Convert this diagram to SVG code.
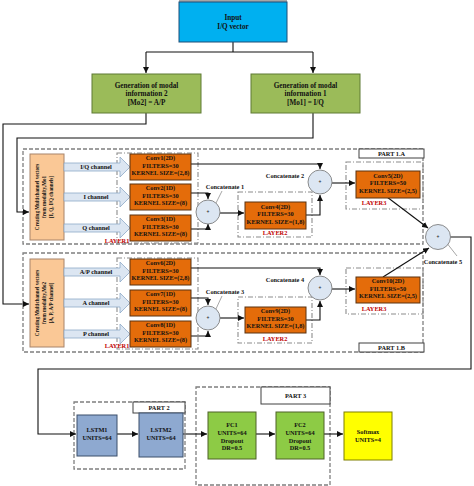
<svg xmlns="http://www.w3.org/2000/svg" width="474" height="486" viewBox="0 0 474 486">
<defs>
<marker id="ah" markerUnits="userSpaceOnUse" markerWidth="7" markerHeight="6" refX="6" refY="3" orient="auto">
<path d="M0,0 L6,3 L0,6 z" fill="#111"/>
</marker>
<style>
text{font-family:"Liberation Serif","Times New Roman",serif;font-weight:bold;fill:#111;text-anchor:middle}
.t6{font-size:6.3px}
.t7{font-size:7.2px}
.t5{font-size:5.1px}
.red{fill:#C00000;font-size:6.3px}
.part{fill:none;stroke:#7f7f7f;stroke-width:1.3;stroke-dasharray:4,2}
.layer{fill:none;stroke:#8c8c8c;stroke-width:1.1;stroke-dasharray:5,2,1,2}
.plabel{fill:#fff;stroke:#404040;stroke-width:1}
.conv{fill:#E46C0A;stroke:#5a3210;stroke-width:1}
.green{fill:#9BBB59;stroke:#5f7a34;stroke-width:1}
.peach{fill:#FAC896;stroke:#a8846a;stroke-width:1}
.chan{fill:#DCE6F2;stroke:#8EA9C8;stroke-width:0.8}
.circ{fill:#DCE6F2;stroke:#7f7f7f;stroke-width:0.9}
.lstm{fill:#8EA9D0;stroke:#3b4f6b;stroke-width:1}
.fc{fill:#8DCB45;stroke:#4f6228;stroke-width:1}
.line{fill:none;stroke:#111;stroke-width:1.1}
.lead{fill:none;stroke:#7f7f7f;stroke-width:0.7}
</style>
</defs>
<rect width="474" height="486" fill="#fff"/>

<!-- Part / layer frames -->
<g id="frames">
<rect class="part" x="23" y="149" width="400" height="95"/>
<rect class="plabel" x="359" y="149" width="65" height="9"/>
<text class="t6" x="391.5" y="156">PART 1.A</text>
<rect class="part" x="23" y="253" width="400" height="99"/>
<rect class="plabel" x="359" y="343" width="65" height="9"/>
<text class="t6" x="391.5" y="350">PART 1.B</text>
<rect class="layer" x="117" y="153" width="81" height="90"/>
<rect class="layer" x="238" y="192" width="74" height="45"/>
<rect class="layer" x="346" y="162" width="77" height="47"/>
<rect class="layer" x="117" y="258" width="81" height="91"/>
<rect class="layer" x="238" y="297" width="74" height="46"/>
<rect class="layer" x="346" y="268" width="77" height="46"/>
<rect class="part" x="74" y="402" width="111" height="67"/>
<rect class="plabel" x="133" y="402" width="52" height="11"/>
<text class="t6" x="159" y="410">PART 2</text>
<rect class="part" x="196" y="387" width="134" height="98"/>
<rect class="plabel" x="261" y="387" width="69" height="17"/>
<text class="t6" x="295.5" y="398">PART 3</text>
<text class="red" x="117" y="242.5">LAYER1</text>
<text class="red" x="275" y="235">LAYER2</text>
<text class="red" x="374" y="205">LAYER3</text>
<text class="red" x="117" y="348">LAYER1</text>
<text class="red" x="275" y="341">LAYER2</text>
<text class="red" x="374" y="311">LAYER3</text>
</g>

<!-- Connectors -->
<g id="connectors">
<path class="line" d="M233,42 V52 M146,52 H313"/>
<path class="line" d="M146,52 V73" marker-end="url(#ah)"/>
<path class="line" d="M313,52 V73" marker-end="url(#ah)"/>
<path class="line" d="M146,113 V124 H3 V304 H29" marker-end="url(#ah)"/>
<path class="line" d="M313,113 V138 H17 V212 H29" marker-end="url(#ah)"/>
<!-- part 1.A -->
<path class="line" d="M191,193 H208 V199" marker-end="url(#ah)"/>
<path class="line" d="M191,229 H208 V224" marker-end="url(#ah)"/>
<path class="line" d="M220,213 H244" marker-end="url(#ah)"/>
<path class="line" d="M191,164 H320 V169" marker-end="url(#ah)"/>
<path class="line" d="M306,215 H320 V195" marker-end="url(#ah)"/>
<path class="line" d="M332,183 H355" marker-end="url(#ah)"/>
<path class="line" d="M387,197 L428,228" marker-end="url(#ah)"/>
<!-- part 1.B -->
<path class="line" d="M191,298 H208 V305" marker-end="url(#ah)"/>
<path class="line" d="M191,336 H208 V331" marker-end="url(#ah)"/>
<path class="line" d="M220,318 H244" marker-end="url(#ah)"/>
<path class="line" d="M191,268 H320 V275" marker-end="url(#ah)"/>
<path class="line" d="M306,320 H320 V301" marker-end="url(#ah)"/>
<path class="line" d="M332,289 H355" marker-end="url(#ah)"/>
<path class="line" d="M383,277 L429,248" marker-end="url(#ah)"/>
<!-- to part 2 -->
<path class="line" d="M450,237 H471 V369 H38 V434 H76" marker-end="url(#ah)"/>
<path class="line" d="M117,434 H138" marker-end="url(#ah)"/>
<path class="line" d="M183,434 H207" marker-end="url(#ah)"/>
<path class="line" d="M256,434 H275" marker-end="url(#ah)"/>
<path class="line" d="M324,434 H343" marker-end="url(#ah)"/>
<!-- leaders -->
<path class="lead" d="M222,191 L215,205"/>
<path class="lead" d="M222,296 L215,311"/>
<path class="lead" d="M446,242 L457,256"/>
</g>

<g id="input">
<rect x="179" y="0" width="108" height="2" fill="#a6a6a6"/>
<rect x="179" y="2" width="108" height="40" fill="#00B0F0" stroke="#1F4E79" stroke-width="1"/>
<text class="t7" x="233" y="20">Input</text>
<text class="t7" x="233" y="28.5">I/Q vector</text>
</g>
<g id="gen2">
<rect class="green" x="92" y="74" width="109" height="39"/>
<text class="t7" x="146.5" y="87.5">Generation of modal</text>
<text class="t7" x="146.5" y="96">information 2</text>
<text class="t7" x="146.5" y="104.5">[Mo2] = A/P</text>
</g>
<g id="gen1">
<rect class="green" x="251" y="74" width="109" height="39"/>
<text class="t7" x="305.5" y="87.5">Generation of modal</text>
<text class="t7" x="305.5" y="96">information 1</text>
<text class="t7" x="305.5" y="104.5">[Mo1] = I/Q</text>
</g>

<g id="multi1">
<rect class="peach" x="30" y="154" width="34" height="86"/>
<g transform="translate(47,197) rotate(-90)">
<text class="t5" x="0" y="-8">Creating Multichannel vectors</text>
<text class="t5" x="0" y="-1">from modality,Mo1</text>
<text class="t5" x="0" y="6">[I, Q, I/Q channels]</text>
</g>
</g>
<g id="multi2">
<rect class="peach" x="30" y="259" width="34" height="88"/>
<g transform="translate(47,303) rotate(-90)">
<text class="t5" x="0" y="-8">Creating Multichannel vectors</text>
<text class="t5" x="0" y="-1">from modality,Mo2</text>
<text class="t5" x="0" y="6">[A, P, A/P channel]</text>
</g>
</g>

<g id="channels1">
<path class="chan" d="M64,163 H120 V157 L130,167 L120,177 V171 H64 Z"/>
<text class="t6" x="96" y="169">I/Q channel</text>
<path class="chan" d="M64,193 H120 V187 L130,197 L120,207 V201 H64 Z"/>
<text class="t6" x="96" y="199">I channel</text>
<path class="chan" d="M64,224 H120 V218 L130,228 L120,238 V232 H64 Z"/>
<text class="t6" x="96" y="230">Q channel</text>
</g>
<g id="channels2">
<path class="chan" d="M64,268 H120 V262 L130,272 L120,282 V276 H64 Z"/>
<text class="t6" x="96" y="274">A/P channel</text>
<path class="chan" d="M64,299 H120 V293 L130,303 L120,313 V307 H64 Z"/>
<text class="t6" x="96" y="305">A channel</text>
<path class="chan" d="M64,330 H120 V324 L130,334 L120,344 V338 H64 Z"/>
<text class="t6" x="96" y="336">P channel</text>
</g>

<g id="conv1"><rect class="conv" x="130" y="154" width="61" height="26"/>
<text class="t6" x="160.5" y="160">Conv1(2D)</text><text class="t6" x="160.5" y="167.5">FILTERS=30</text><text class="t6" x="160.5" y="175">KERNEL SIZE=(2,8)</text></g>
<g id="conv2"><rect class="conv" x="130" y="184" width="61" height="26"/>
<text class="t6" x="160.5" y="190">Conv2(1D)</text><text class="t6" x="160.5" y="197.5">FILTERS=30</text><text class="t6" x="160.5" y="205">KERNEL SIZE=(8)</text></g>
<g id="conv3"><rect class="conv" x="130" y="215" width="61" height="26"/>
<text class="t6" x="160.5" y="221">Conv3(1D)</text><text class="t6" x="160.5" y="228.5">FILTERS=30</text><text class="t6" x="160.5" y="236">KERNEL SIZE=(8)</text></g>
<g id="conv4"><rect class="conv" x="245" y="202" width="61" height="27"/>
<text class="t6" x="275.5" y="208.5">Conv4(2D)</text><text class="t6" x="275.5" y="216">FILTERS=30</text><text class="t6" x="275.5" y="223.5">KERNEL SIZE=(1,8)</text></g>
<g id="conv5"><rect class="conv" x="356" y="171" width="64" height="27"/>
<text class="t6" x="388" y="177.5">Conv5(2D)</text><text class="t6" x="388" y="185">FILTERS=50</text><text class="t6" x="388" y="192.5">KERNEL SIZE=(2,5)</text></g>

<g id="conv6"><rect class="conv" x="130" y="259" width="61" height="26"/>
<text class="t6" x="160.5" y="265">Conv6(2D)</text><text class="t6" x="160.5" y="272.5">FILTERS=30</text><text class="t6" x="160.5" y="280">KERNEL SIZE=(2,8)</text></g>
<g id="conv7"><rect class="conv" x="130" y="290" width="61" height="26"/>
<text class="t6" x="160.5" y="296">Conv7(1D)</text><text class="t6" x="160.5" y="303.5">FILTERS=30</text><text class="t6" x="160.5" y="311">KERNEL SIZE=(8)</text></g>
<g id="conv8"><rect class="conv" x="130" y="321" width="61" height="26"/>
<text class="t6" x="160.5" y="327">Conv8(1D)</text><text class="t6" x="160.5" y="334.5">FILTERS=30</text><text class="t6" x="160.5" y="342">KERNEL SIZE=(8)</text></g>
<g id="conv9"><rect class="conv" x="245" y="307" width="61" height="26"/>
<text class="t6" x="275.5" y="313">Conv9(2D)</text><text class="t6" x="275.5" y="320.5">FILTERS=30</text><text class="t6" x="275.5" y="328">KERNEL SIZE=(1,8)</text></g>
<g id="conv10"><rect class="conv" x="356" y="277" width="64" height="26"/>
<text class="t6" x="388" y="283">Conv10(2D)</text><text class="t6" x="388" y="290.5">FILTERS=50</text><text class="t6" x="388" y="298">KERNEL SIZE=(2,5)</text></g>

<g id="concat1"><circle class="circ" cx="208" cy="212" r="12"/><text class="t5" x="208" y="214">+</text>
<text class="t6" x="225" y="189">Concatenate 1</text></g>
<g id="concat2"><circle class="circ" cx="320" cy="182" r="12"/><text class="t5" x="320" y="184">+</text>
<text class="t6" x="285" y="178">Concatenate 2</text></g>
<g id="concat3"><circle class="circ" cx="208" cy="318" r="12"/><text class="t5" x="208" y="320">+</text>
<text class="t6" x="225" y="294">Concatenate 3</text></g>
<g id="concat4"><circle class="circ" cx="320" cy="288" r="12"/><text class="t5" x="320" y="290">+</text>
<text class="t6" x="285" y="282">Concatenate 4</text></g>
<g id="concat5"><circle class="circ" cx="438" cy="237" r="12.5"/><text class="t5" x="438" y="239">+</text>
<text class="t6" x="443" y="264">Concatenate 5</text></g>

<g id="lstm1"><rect class="lstm" x="77" y="415" width="40" height="41"/>
<text class="t6" x="97" y="432">LSTM1</text><text class="t6" x="97" y="440">UNITS=64</text></g>
<g id="lstm2"><rect class="lstm" x="139" y="413" width="44" height="44"/>
<text class="t6" x="161" y="432">LSTM2</text><text class="t6" x="161" y="440">UNITS=64</text></g>
<g id="fc1"><rect class="fc" x="208" y="412" width="48" height="47"/>
<text class="t6" x="232" y="426.5">FC1</text><text class="t6" x="232" y="434.5">UNITS=64</text><text class="t6" x="232" y="442.5">Dropout</text><text class="t6" x="232" y="450">DR=0.5</text></g>
<g id="fc2"><rect class="fc" x="276" y="412" width="48" height="47"/>
<text class="t6" x="300" y="426.5">FC2</text><text class="t6" x="300" y="434.5">UNITS=64</text><text class="t6" x="300" y="442.5">Dropout</text><text class="t6" x="300" y="450">DR=0.5</text></g>
<g id="softmax"><rect x="344" y="412" width="48" height="48" fill="#FFFF00" stroke="#7f7f00" stroke-width="1"/>
<text class="t6" x="368" y="434">Softmax</text><text class="t6" x="368" y="442">UNITS=4</text></g>
</svg>
